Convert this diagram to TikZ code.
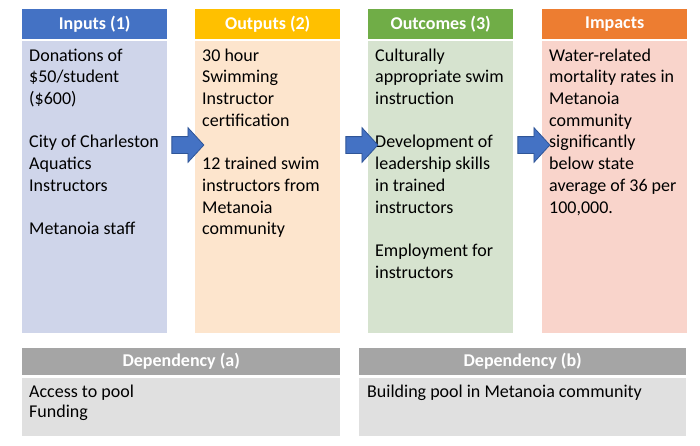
\documentclass[tikz,border=0pt]{standalone}
\usepackage{fontspec}
\setmainfont{Carlito}
\usetikzlibrary{positioning,shapes.arrows}

\definecolor{inhead}{HTML}{4472C4}
\definecolor{inbody}{HTML}{CFD5EA}
\definecolor{outhead}{HTML}{FFC000}
\definecolor{outbody}{HTML}{FDE5CD}
\definecolor{ochead}{HTML}{70AD47}
\definecolor{ocbody}{HTML}{D6E3CF}
\definecolor{imphead}{HTML}{ED7D31}
\definecolor{impbody}{HTML}{F9D4CB}
\definecolor{dephead}{HTML}{A5A5A5}
\definecolor{depbody}{HTML}{E0E0E0}
\definecolor{arrline}{HTML}{2F5597}

\tikzset{
  colhdr/.style={inner sep=0pt, minimum width=145pt, minimum height=30pt, anchor=north west,
    text=white, font=\bfseries\fontsize{18}{21.7}\selectfont},
  colbody/.style={inner sep=0pt, minimum width=145pt, minimum height=292pt, anchor=north west},
  txt/.style={inner sep=0pt, align=left, font=\fontsize{18}{21.7}\selectfont},
  dephdr/.style={inner sep=0pt, minimum height=27pt, anchor=north west, fill=dephead,
    text=white, font=\bfseries\fontsize{18}{21.7}\selectfont},
  depbox/.style={inner sep=0pt, minimum height=58pt, anchor=north west, fill=depbody},
  deptxt/.style={inner sep=0pt, align=left, font=\fontsize{18}{20.5}\selectfont},
  blkarrow/.style={single arrow, fill=inhead, draw=arrline, line width=0.8pt,
    inner xsep=0pt, inner ysep=8pt, single arrow head extend=9pt,
    single arrow tip angle=95, minimum height=32pt}
}

\begin{document}
\begin{tikzpicture}[x=1pt,y=-1pt]
  \useasboundingbox (0,0) rectangle (700,445);

  % columns
  \node[colhdr, fill=inhead] (inh) at (22,9) {Inputs (1)};
  \node[colbody, fill=inbody] (inb) at (22,41) {};
  \node[txt, below right=4.8pt and 7pt of inb.north west] (intxt)
    {\strut Donations of\\ \$50/student\\ (\$600)\\[\baselineskip]
     City of Charleston\\ Aquatics\\ Instructors\\[\baselineskip] Metanoia staff};

  \node[colhdr, fill=outhead] (outh) at (195,9) {Outputs (2)};
  \node[colbody, fill=outbody] (outb) at (195,41) {};
  \node[txt, below right=4.8pt and 7pt of outb.north west] (outtxt)
    {\strut 30 hour\\ Swimming\\ Instructor\\ certification\\[\baselineskip]
     12 trained swim\\ instructors from\\ Metanoia\\ community};

  \node[colhdr, fill=ochead] (och) at (368,9) {Outcomes (3)};
  \node[colbody, fill=ocbody] (ocb) at (368,41) {};
  \node[txt, below right=4.8pt and 7pt of ocb.north west] (octxt)
    {\strut Culturally\\ appropriate swim\\ instruction\\[\baselineskip]
     Development of\\ leadership skills\\ in trained\\ instructors\\[\baselineskip]
     Employment for\\ instructors};

  \node[colhdr, fill=imphead] (imph) at (542,9) {Impacts};
  \node[colbody, fill=impbody] (impb) at (542,41) {};
  \node[txt, below right=4.8pt and 7pt of impb.north west] (imptxt)
    {\strut Water-related\\ mortality rates in\\ Metanoia\\ community\\ significantly\\
     below state\\ average of 36 per\\ 100,000.};

  % block arrows
  \node[blkarrow] (ar1) at (184,145) {};
  \node[blkarrow] (ar2) at (358,145) {};
  \node[blkarrow] (ar3) at (530,145) {};

  % dependencies
  \node[dephdr, minimum width=318pt] (dah) at (22,348) {Dependency (a)};
  \node[depbox, minimum width=318pt] (dab) at (22,378) {};
  \node[deptxt, below right=4.6pt and 7pt of dab.north west] (datxt)
    {\strut Access to pool\\ Funding};

  \node[dephdr, minimum width=327pt] (dbh) at (359,348) {Dependency (b)};
  \node[depbox, minimum width=327pt] (dbb) at (359,378) {};
  \node[deptxt, below right=4.6pt and 8pt of dbb.north west] (dbtxt)
    {\strut Building pool in Metanoia community};
\end{tikzpicture}
\end{document}
